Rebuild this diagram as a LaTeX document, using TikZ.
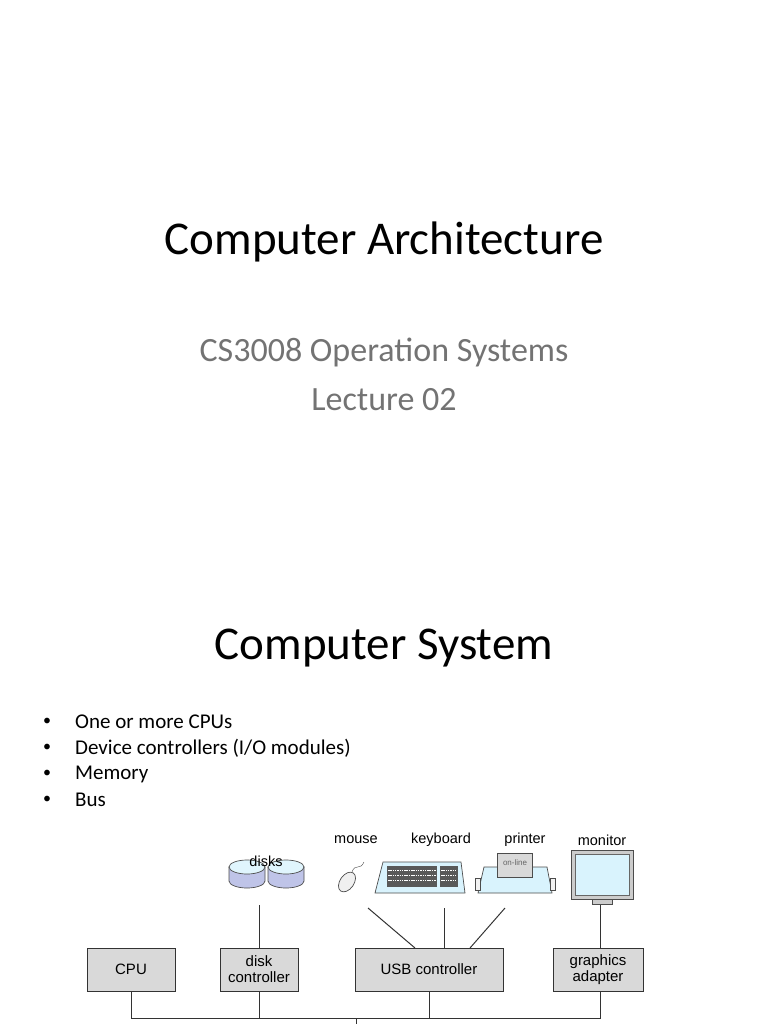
\documentclass[tikz,border=0pt]{standalone}
\usepackage{fontspec}
\setmainfont{Carlito}
\newfontfamily\arialf{Liberation Sans}
\begin{document}
\begin{tikzpicture}[x=1pt,y=-1pt,
  box/.style={draw=black!80,fill=black!15,line width=0.8pt,align=center,font=\arialf\fontsize{15}{16}\selectfont,inner sep=0pt},
  lbl/.style={font=\arialf\fontsize{14.5}{15}\selectfont},
  wire/.style={line width=1pt,black!80},
  dev/.style={draw=black!70,fill=cyan!30!blue!25,line width=0.7pt}]
\useasboundingbox (0,0) rectangle (768,1024);
\node (t1) at (384,242) {\fontsize{47}{50}\selectfont Computer Architecture};
\node[text=black!55] (t2) at (384,352) {\fontsize{34}{36}\selectfont CS3008 Operation Systems};
\node[text=black!55] (t3) at (384,400) {\fontsize{34}{36}\selectfont Lecture 02};
\node (t4) at (384,648) {\fontsize{47}{50}\selectfont Computer System};
\foreach \t [count=\i] in {One or more CPUs,Device controllers (I/O modules),Memory,Bus}{
  \node[anchor=west,inner sep=0pt] (b\i) at (75,696+26*\i) {\fontsize{21}{23}\selectfont \t};
  \node[inner sep=0pt] (d\i) at (47,696+26*\i) {\fontsize{16}{18}\selectfont •};
}
% boxes
\node[box,minimum width=88,minimum height=43] (cpu) at (131,969.5) {CPU};
\node[box,minimum width=78,minimum height=43] (dc) at (259,969.5) {disk\\controller};
\node[box,minimum width=148,minimum height=43] (usb) at (429,969.5) {USB controller};
\node[box,minimum width=90,minimum height=43] (ga) at (598,969.5) {graphics\\adapter};
% bus
\coordinate (bl) at (131,1018); \coordinate (br) at (600,1018);
\draw[wire] (cpu.south) -- (bl) -- (br) -- (ga.south -| br);
\draw[wire] (dc.south) -- (dc.south |- bl);
\draw[wire] (usb.south) -- (usb.south |- bl);
\coordinate (bm) at (356,1018); \coordinate (be) at (356,1024);
\draw[wire] (bm) -- (be);
% devices
\coordinate (dk) at (259,905); \coordinate (ms) at (368,908); \coordinate (kb) at (444,908);
\coordinate (pr) at (505,908); \coordinate (mn) at (600,905);
\draw[wire] (dc.north) -- (dk);
\draw[wire] (ms) -- (415,948);
\draw[wire] (kb) -- (usb.north -| kb);
\draw[wire] (pr) -- (470,948);
\draw[wire] (mn) -- (ga.north -| mn);
% disks
\foreach \cx in {247,286}{
 \draw[dev] (\cx-18,867) -- (\cx-18,881) arc[start angle=180,end angle=0,x radius=18,y radius=7] -- (\cx+18,867) -- cycle;
 \draw[dev,fill=cyan!12] (\cx,867) ellipse[x radius=18,y radius=7];
}
\node[lbl] (ldisks) at (266,861) {disks};
% mouse
\draw[dev,fill=black!6,rotate around={-35:(347,882)}] (347,882) ellipse[x radius=7,y radius=11];
\draw[black!70] (352,872) .. controls (355,863) and (360,871) .. (364,862);
\node[lbl] (lmouse) at (356,840) {mouse};
% keyboard
\draw[dev,fill=cyan!15] (383,862) -- (461,862) -- (465,893) -- (375,893) -- cycle;
\fill[black!65] (387,866) rectangle (437,887);
\fill[black!65] (440,866) rectangle (458,887);
\foreach \y in {870,875,880}{\draw[white,line width=0.5pt,dash pattern=on 1.5pt off 0.8pt] (388,\y) -- (436,\y); \draw[white,line width=0.5pt,dash pattern=on 1.5pt off 0.8pt] (441,\y) -- (457,\y);}
\node[lbl] (lkb) at (441,840) {keyboard};
% printer
\draw[dev,fill=cyan!15] (484,867) -- (547,867) -- (552,893) -- (478,893) -- cycle;
\draw[black!70,fill=black!5] (475,878) rectangle (480,890);
\draw[black!70,fill=black!5] (550,878) rectangle (555,890);
\draw[black!70,fill=black!15] (497,853) rectangle (532,877);
\node[font=\arialf\fontsize{8}{9}\selectfont,text=black!60] (onl) at (515,863) {on-line};
\node[lbl] (lpr) at (525,840) {printer};
% monitor
\draw[black!70,fill=black!20,line width=0.8pt] (571,850) rectangle (633,899);
\draw[black!60,fill=cyan!15] (575,854) rectangle (629,895);
\draw[black!70,fill=black!20] (592,899) rectangle (612,904);
\node[lbl] (lmn) at (602,840) {monitor};
\end{tikzpicture}
\end{document}
